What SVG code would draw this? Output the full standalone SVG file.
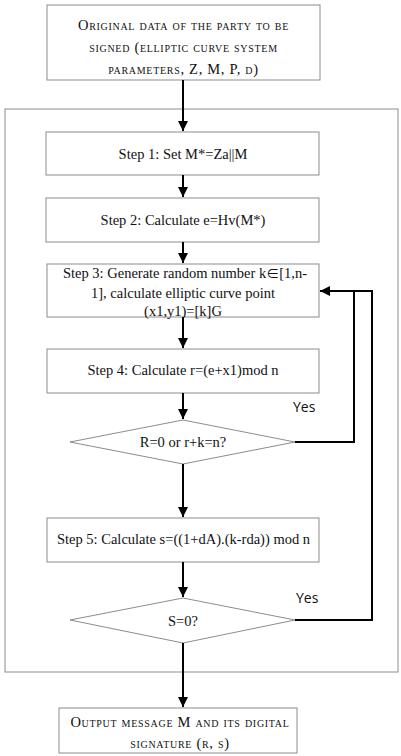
<svg xmlns="http://www.w3.org/2000/svg" width="401" height="756" viewBox="0 0 401 756">
<style>
.box{fill:#fff;stroke:#8c8c8c;stroke-width:1}
.t{font-family:"Liberation Serif","Times New Roman",serif;font-size:14.5px;fill:#111;text-anchor:middle}
.sc{font-variant:small-caps;font-size:14.5px;letter-spacing:0.7px}
.cjk{font-family:"Noto Sans CJK SC",sans-serif;font-size:13px}
.c{fill:none;stroke:#000;stroke-width:2}
.yes{font-family:"Open Sans","Liberation Sans",sans-serif;font-size:14px;fill:#111}
</style>
<defs>
<marker id="ah" viewBox="0 0 10 10" refX="10" refY="5" markerWidth="5" markerHeight="5" orient="auto" markerUnits="strokeWidth">
<path d="M0,0 L10,5 L0,10 z" fill="#000"/>
</marker>
</defs>
<rect id="outer" class="box" x="5" y="109" width="393" height="563"/>
<g id="start">
<rect class="box" x="47" y="5" width="273" height="75"/>
<text class="t sc" x="183.5" y="30">Original data of the party to be</text>
<text class="t sc" x="183.5" y="52">signed (elliptic curve system</text>
<text class="t sc" x="183.5" y="74">parameters, Z, M, P, d)</text>
</g>
<g id="step1">
<rect class="box" x="46" y="132" width="273" height="43"/>
<text class="t" x="183" y="158.5">Step 1: Set M*=Za||M</text>
</g>
<g id="step2">
<rect class="box" x="46" y="198" width="273" height="44"/>
<text class="t" x="183" y="225">Step 2: Calculate e=Hv(M*)</text>
</g>
<g id="step3">
<rect class="box" x="47" y="264" width="272" height="53"/>
<text class="t" x="185" y="278">Step 3: Generate random number k<tspan class="cjk">∈</tspan>[1,n-</text>
<text class="t" x="183" y="298">1], calculate elliptic curve point</text>
<text class="t" x="183" y="316">(x1,y1)=[k]G</text>
</g>
<g id="step4">
<rect class="box" x="47" y="349" width="272" height="44"/>
<text class="t" x="183" y="375">Step 4: Calculate r=(e+x1)mod n</text>
</g>
<g id="dec1">
<polygon class="box" points="183,420 295,442 183,464 70,442"/>
<text class="t" x="183" y="447">R=0 or r+k=n?</text>
</g>
<g id="step5">
<rect class="box" x="47" y="518" width="272" height="44"/>
<text class="t" x="183.5" y="544">Step 5: Calculate s=((1+dA).(k-rda)) mod n</text>
</g>
<g id="dec2">
<polygon class="box" points="183,598 295,620 183,643 70,620"/>
<text class="t" x="183" y="626">S=0?</text>
</g>
<g id="end">
<rect class="box" x="59" y="708" width="238" height="45"/>
<text class="t sc" x="180" y="727">Output message M and its digital</text>
<text class="t sc" x="180" y="748">signature (r, s)</text>
</g>
<g id="connectors">
<line class="c" x1="183" y1="80" x2="183" y2="131" marker-end="url(#ah)"/>
<line class="c" x1="183" y1="175" x2="183" y2="197" marker-end="url(#ah)"/>
<line class="c" x1="183" y1="242" x2="183" y2="263" marker-end="url(#ah)"/>
<line class="c" x1="183" y1="317" x2="183" y2="348" marker-end="url(#ah)"/>
<line class="c" x1="183" y1="393" x2="183" y2="419" marker-end="url(#ah)"/>
<line class="c" x1="183" y1="464" x2="183" y2="517" marker-end="url(#ah)"/>
<line class="c" x1="183" y1="562" x2="183" y2="597" marker-end="url(#ah)"/>
<line class="c" x1="183" y1="643" x2="183" y2="707" marker-end="url(#ah)"/>
<polyline class="c" points="295,442 354,442 354,291 320,291" marker-end="url(#ah)"/>
<polyline class="c" points="295,620 372,620 372,291 354,291"/>
<text class="yes" x="293" y="412">Yes</text>
<text class="yes" x="296" y="603">Yes</text>
</g>
</svg>
